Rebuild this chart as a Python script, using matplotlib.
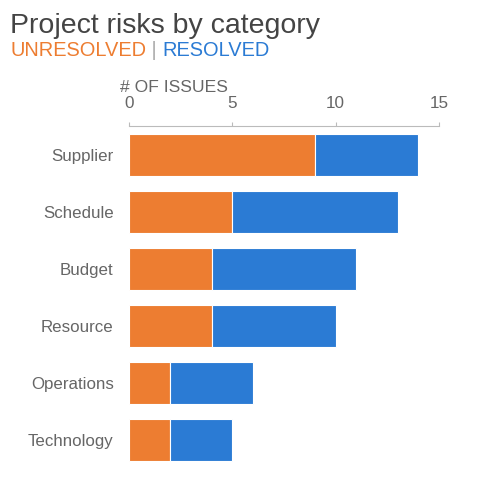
import matplotlib.pyplot as plt
import numpy as np

plt.rcParams['font.family'] = ['Liberation Sans', 'DejaVu Sans']

categories = ["Supplier", "Schedule", "Budget", "Resource", "Operations", "Technology"]
unresolved = [9, 5, 4, 4, 2, 2]
resolved = [5, 8, 7, 6, 4, 3]
xticks = [0, 5, 10, 15]

orange = "#ED7D31"
blue = "#2B7BD4"

W, H = 478, 486
fig = plt.figure(figsize=(W / 100, H / 100), dpi=100)
ax = fig.add_axes([129 / W, 1 - 468.5 / H, 310 / W, 342.5 / H])

y = np.arange(len(categories))
ax.barh(y, unresolved, height=0.75, color=orange, edgecolor="white", linewidth=0.8)
ax.barh(y, resolved, left=unresolved, height=0.75, color=blue, edgecolor="white", linewidth=0.8)

ax.set_xlim(0, 15)
ax.set_ylim(5.5, -0.51)
ax.set_yticks(y)
ax.set_yticklabels(categories, fontsize=12.2, color="#666666")
ax.tick_params(axis="y", length=0, pad=11)

ax.xaxis.tick_top()
ax.set_xticks(xticks)
ax.set_xticklabels([str(t) for t in xticks], fontsize=12.3, color="#666666")
ax.tick_params(axis="x", length=3, color="#bbbbbb", pad=8)

for s in ["left", "right", "bottom"]:
    ax.spines[s].set_visible(False)
ax.spines["top"].set_color("#bbbbbb")
ax.spines["top"].set_linewidth(0.8)

fig.text(120 / W, 1 - 92 / H, "# OF ISSUES", fontsize=12.6, color="#666666", ha="left", va="baseline")

fig.text(10 / W, 1 - 33 / H, "Project risks by category", fontsize=20.5, color="#444444", ha="left", va="baseline")

# coloured subtitle built piece by piece
renderer = fig.canvas.get_renderer()
x0 = 10 / W
pieces = [("UNRESOLVED", orange), (" | ", "#aaaaaa"), ("RESOLVED", blue)]
for txt, col in pieces:
    t = fig.text(x0, 1 - 56 / H, txt, fontsize=14.4, color=col, ha="left", va="baseline")
    bb = t.get_window_extent(renderer=renderer)
    x0 += bb.width / W

fig.savefig("out.png", dpi=100)
